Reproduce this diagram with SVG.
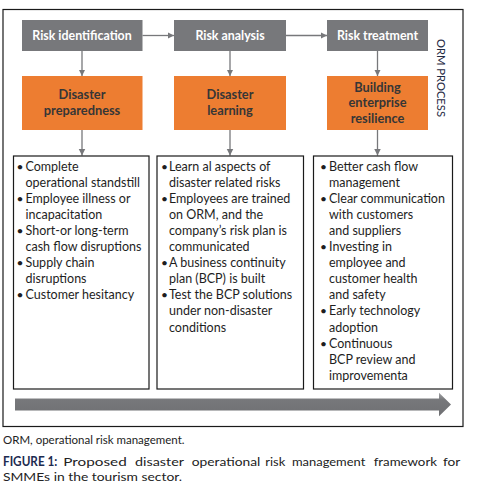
<svg xmlns="http://www.w3.org/2000/svg" width="477" height="496" viewBox="0 0 477 496">
<style>
  .step { fill: #77787b; }
  .stepT { font-family: Lato, "Liberation Sans", sans-serif; font-weight: bold; font-size: 12.4px; fill: #ffffff; text-anchor: middle; }
  .out { fill: #ed7d31; }
  .outT { font-family: Lato, "Liberation Sans", sans-serif; font-weight: bold; font-size: 12.8px; fill: #363636; text-anchor: middle; }
  .box { fill: #ffffff; stroke: #1a1a1a; stroke-width: 1.2; }
  .li { font-family: Lato, "Liberation Sans", sans-serif; font-size: 12.5px; fill: #1e1e1e; }
  .bu { font-family: Lato, "Liberation Sans", sans-serif; font-size: 12px; fill: #1e1e1e; }
  .conn { stroke: #77787b; stroke-width: 1.3; fill: none; marker-end: url(#ah); }
  .cap { font-family: Lato, "Liberation Sans", sans-serif; font-size: 11.5px; fill: #222222; }
  .fig { font-family: Lato, "Liberation Sans", sans-serif; font-size: 12.3px; fill: #222222; }
  .figB { font-family: Lato, "Liberation Sans", sans-serif; font-size: 12.3px; font-weight: bold; fill: #1d2b50; }
</style>
<defs>
  <marker id="ah" viewBox="0 0 8 8" refX="8" refY="4" markerUnits="userSpaceOnUse" markerWidth="6.5" markerHeight="7.5" orient="auto">
    <path d="M0,0 L8,4 L0,8 z" fill="#77787b"/>
  </marker>
  <linearGradient id="bigG" x1="0" y1="0" x2="0" y2="1">
    <stop offset="0" stop-color="#a2a3a6"/>
    <stop offset="0.3" stop-color="#77787b"/>
    <stop offset="1" stop-color="#6f7073"/>
  </linearGradient>
</defs>
<rect width="477" height="496" fill="#ffffff"/>
<rect id="frame" x="3" y="9.5" width="460" height="417" fill="none" stroke="#1a1a1a" stroke-width="1.2"/>

<g id="connectors">
  <line class="conn" x1="142.5" y1="35.5" x2="174" y2="35.5"/>
  <line class="conn" x1="286" y1="35.5" x2="327" y2="35.5"/>
  <line class="conn" x1="82" y1="51" x2="82" y2="76"/>
  <line class="conn" x1="230" y1="51" x2="230" y2="76"/>
  <line class="conn" x1="377.5" y1="51" x2="377.5" y2="76"/>
  <line class="conn" x1="82" y1="130" x2="82" y2="155.5"/>
  <line class="conn" x1="230" y1="130" x2="230" y2="155.5"/>
  <line class="conn" x1="377.5" y1="130" x2="377.5" y2="155.5"/>
</g>

<g id="risk-identification">
  <rect class="step" x="22" y="20" width="120.5" height="31"/>
  <text class="stepT" x="82" y="39.5">Risk identification</text>
</g>
<g id="risk-analysis">
  <rect class="step" x="174" y="20" width="112" height="31"/>
  <text class="stepT" x="230" y="39.5">Risk analysis</text>
</g>
<g id="risk-treatment">
  <rect class="step" x="327" y="20" width="101" height="31"/>
  <text class="stepT" x="377.5" y="39.5">Risk treatment</text>
</g>

<g id="disaster-preparedness">
  <rect class="out" x="22" y="76" width="120.5" height="54"/>
  <text class="outT" x="82" y="99">Disaster</text>
  <text class="outT" x="82" y="114.5">preparedness</text>
</g>
<g id="disaster-learning">
  <rect class="out" x="174" y="76" width="112" height="54"/>
  <text class="outT" x="230" y="99">Disaster</text>
  <text class="outT" x="230" y="114.5">learning</text>
</g>
<g id="building-resilience">
  <rect class="out" x="327" y="76" width="101" height="54"/>
  <text class="outT" x="377.5" y="91.5">Building</text>
  <text class="outT" x="377.5" y="107">enterprise</text>
  <text class="outT" x="377.5" y="122.5">resilience</text>
</g>

<g id="orm-process">
  <text transform="translate(436.5,39) rotate(90)" font-family="Lato, 'Liberation Sans', sans-serif" font-size="12px" fill="#1f2a44" textLength="78" lengthAdjust="spacingAndGlyphs">ORM PROCESS</text>
</g>

<g id="list-preparedness">
  <rect class="box" x="13.5" y="156" width="135.5" height="233"/>
  <text class="bu" x="16.5" y="170.5">•</text>
  <text class="li" x="25.5" y="170.5">Complete</text>
  <text class="li" x="25.5" y="186.6">operational standstill</text>
  <text class="bu" x="16.5" y="202.7">•</text>
  <text class="li" x="25.5" y="202.7">Employee illness or</text>
  <text class="li" x="25.5" y="218.8">incapacitation</text>
  <text class="bu" x="16.5" y="234.9">•</text>
  <text class="li" x="25.5" y="234.9">Short-or long-term</text>
  <text class="li" x="25.5" y="251">cash flow disruptions</text>
  <text class="bu" x="16.5" y="267.1">•</text>
  <text class="li" x="25.5" y="267.1">Supply chain</text>
  <text class="li" x="25.5" y="283.2">disruptions</text>
  <text class="bu" x="16.5" y="299.3">•</text>
  <text class="li" x="25.5" y="299.3">Customer hesitancy</text>
</g>

<g id="list-learning">
  <rect class="box" x="157" y="156" width="146.5" height="233"/>
  <text class="bu" x="161" y="170.5">•</text>
  <text class="li" x="169" y="170.5">Learn al aspects of</text>
  <text class="li" x="169" y="186.6">disaster related risks</text>
  <text class="bu" x="161" y="202.7">•</text>
  <text class="li" x="169" y="202.7">Employees are trained</text>
  <text class="li" x="169" y="218.8">on ORM, and the</text>
  <text class="li" x="169" y="234.9">company’s risk plan is</text>
  <text class="li" x="169" y="251">communicated</text>
  <text class="bu" x="161" y="267.1">•</text>
  <text class="li" x="169" y="267.1">A business continuity</text>
  <text class="li" x="169" y="283.2">plan (BCP) is built</text>
  <text class="bu" x="161" y="299.3">•</text>
  <text class="li" x="169" y="299.3">Test the BCP solutions</text>
  <text class="li" x="169" y="315.4">under non-disaster</text>
  <text class="li" x="169" y="331.5">conditions</text>
</g>

<g id="list-resilience">
  <rect class="box" x="313.5" y="156" width="139" height="233"/>
  <text class="bu" x="320" y="170.5">•</text>
  <text class="li" x="329" y="170.5">Better cash flow</text>
  <text class="li" x="329" y="186.6">management</text>
  <text class="bu" x="320" y="202.7">•</text>
  <text class="li" x="329" y="202.7">Clear communication</text>
  <text class="li" x="329" y="218.8">with customers</text>
  <text class="li" x="329" y="234.9">and suppliers</text>
  <text class="bu" x="320" y="251">•</text>
  <text class="li" x="329" y="251">Investing in</text>
  <text class="li" x="329" y="267.1">employee and</text>
  <text class="li" x="329" y="283.2">customer health</text>
  <text class="li" x="329" y="299.3">and safety</text>
  <text class="bu" x="320" y="315.4">•</text>
  <text class="li" x="329" y="315.4">Early technology</text>
  <text class="li" x="329" y="331.5">adoption</text>
  <text class="bu" x="320" y="347.6">•</text>
  <text class="li" x="329" y="347.6">Continuous</text>
  <text class="li" x="329" y="363.7">BCP review and</text>
  <text class="li" x="329" y="379.8">improvementa</text>
</g>

<g id="time-arrow">
  <path d="M15,398.5 L439,398.5 L439,392.7 L451,404.5 L439,416.3 L439,410.5 L15,410.5 Z" fill="url(#bigG)"/>
</g>

<g id="caption">
  <text class="cap" x="3" y="444">ORM, operational risk management.</text>
  <text class="figB" x="3" y="466.2" textLength="54.3" lengthAdjust="spacingAndGlyphs">FIGURE 1:</text>
  <text class="fig" x="63.3" y="466.2" textLength="63.4" lengthAdjust="spacingAndGlyphs">Proposed</text>
  <text class="fig" x="135" y="466.2" textLength="49" lengthAdjust="spacingAndGlyphs">disaster</text>
  <text class="fig" x="191.7" y="466.2" textLength="68.6" lengthAdjust="spacingAndGlyphs">operational</text>
  <text class="fig" x="265.3" y="466.2" textLength="20" lengthAdjust="spacingAndGlyphs">risk</text>
  <text class="fig" x="292" y="466.2" textLength="73.3" lengthAdjust="spacingAndGlyphs">management</text>
  <text class="fig" x="373.7" y="466.2" textLength="63.3" lengthAdjust="spacingAndGlyphs">framework</text>
  <text class="fig" x="443" y="466.2" textLength="17.3" lengthAdjust="spacingAndGlyphs">for</text>
  <text class="fig" x="3" y="481" textLength="179" lengthAdjust="spacingAndGlyphs">SMMEs in the tourism sector.</text>
</g>
</svg>
